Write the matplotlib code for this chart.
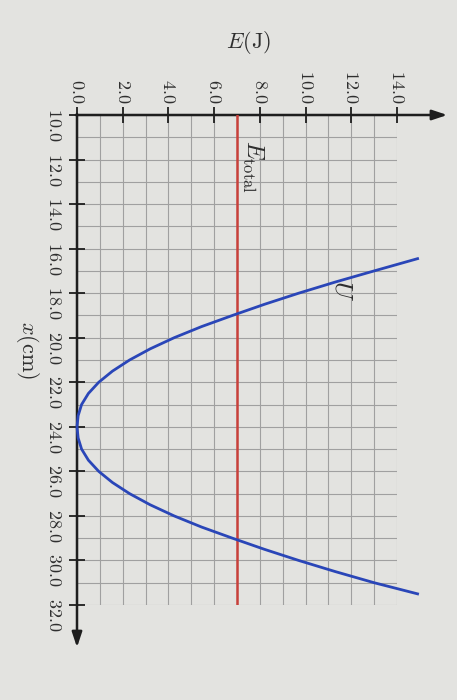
import matplotlib
matplotlib.use("Agg")
import matplotlib.pyplot as plt
from matplotlib.ticker import FixedLocator, FixedFormatter, MultipleLocator

plt.rcParams['mathtext.fontset'] = 'cm'
plt.rcParams['font.family'] = ['DejaVu Serif']

# ---- data ----
E_ticks = [0, 2, 4, 6, 8, 10, 12, 14]
E_tick_labels = ['0.0', '2.0', '4.0', '6.0', '8.0', '10.0', '12.0', '14.0']
x_ticks = [10, 12, 14, 16, 18, 20, 22, 24, 26, 28, 30, 32]
x_tick_labels = ['10.0', '12.0', '14.0', '16.0', '18.0', '20.0', '22.0',
                 '24.0', '26.0', '28.0', '30.0', '32.0']

E_total = 7.0

U_x = [16.45, 17, 17.5, 18, 18.5, 19, 19.5, 20, 20.5, 21, 21.5, 22, 22.5, 23, 23.5,
       24, 24.5, 25, 25.5, 26, 26.5, 27, 27.5, 28, 28.5, 29, 29.5, 30, 30.5, 31, 31.5]
U_E = [14.9, 13.0, 11.3, 9.7, 8.2, 6.8, 5.45, 4.25, 3.2, 2.3, 1.55, 0.95, 0.5, 0.2, 0.05,
       0.0, 0.05, 0.2, 0.5, 0.95, 1.55, 2.3, 3.2, 4.25, 5.45, 6.8, 8.2, 9.7, 11.3, 13.0, 14.9]

bg = '#e3e3e0'
dark = '#1e1e1e'
txt = '#2e2e2e'

W, H = 457, 700
fig = plt.figure(figsize=(W / 100, H / 100), dpi=100, facecolor=bg)
ax = fig.add_axes([77 / W, (H - 605) / H, 320 / W, 490 / H])
ax.set_facecolor(bg)
ax.set_xlim(0, 14)
ax.set_ylim(32, 10)
for s in ax.spines.values():
    s.set_visible(False)

# ticks
ax.xaxis.set_major_locator(FixedLocator(E_ticks))
ax.xaxis.set_major_formatter(FixedFormatter(['$' + t + '$' for t in E_tick_labels]))
ax.yaxis.set_major_locator(FixedLocator(x_ticks))
ax.yaxis.set_major_formatter(FixedFormatter(['$' + t + '$' for t in x_tick_labels]))
ax.xaxis.set_minor_locator(MultipleLocator(1))
ax.yaxis.set_minor_locator(MultipleLocator(1))
ax.tick_params(axis='x', which='major', top=True, labeltop=True, bottom=False,
               labelbottom=False, direction='inout', length=12, width=1.3,
               color=dark, labelcolor=txt, labelsize=13, labelrotation=-90, pad=2)
ax.tick_params(axis='y', which='major', left=True, labelleft=True, direction='inout',
               length=12, width=1.3, color=dark, labelcolor=txt, labelsize=13,
               labelrotation=-90, pad=4)
ax.tick_params(which='minor', length=0)
ax.grid(which='both', color='#a0a0a0', linewidth=0.8)
ax.set_axisbelow(True)

# axis lines with arrows
arrow_kw = dict(arrowstyle='-|>,head_length=0.9,head_width=0.3', color=dark, lw=1.8,
                shrinkA=0, shrinkB=0)
ax.annotate('', xy=(16.2, 10), xytext=(-0.05, 10), arrowprops=arrow_kw, annotation_clip=False)
ax.annotate('', xy=(0, 33.9), xytext=(0, 9.95), arrowprops=arrow_kw, annotation_clip=False)

# total energy line and potential curve
ax.plot([E_total, E_total], [10, 32], color='#c8403a', lw=1.8, zorder=3)
ax.plot(U_E, U_x, color='#2a46b8', lw=2.0, zorder=4, clip_on=False)

# labels
ax.text(7.12, 12.3, r'$E_{\mathrm{total}}$', rotation=-90, ha='left', va='center',
        fontsize=17, color=txt)
ax.text(11.6, 17.9, r'$U$', rotation=-90, ha='center', va='center', fontsize=18, color=txt)
fig.text(248 / W, 1 - 42 / H, r'$E(\mathrm{J})$', ha='center', va='center', fontsize=16, color=txt)
fig.text(27 / W, 1 - 350 / H, r'$x(\mathrm{cm})$', ha='center', va='center', rotation=-90,
         fontsize=16, color=txt)

fig.savefig('out.png', dpi=100, facecolor=bg)
